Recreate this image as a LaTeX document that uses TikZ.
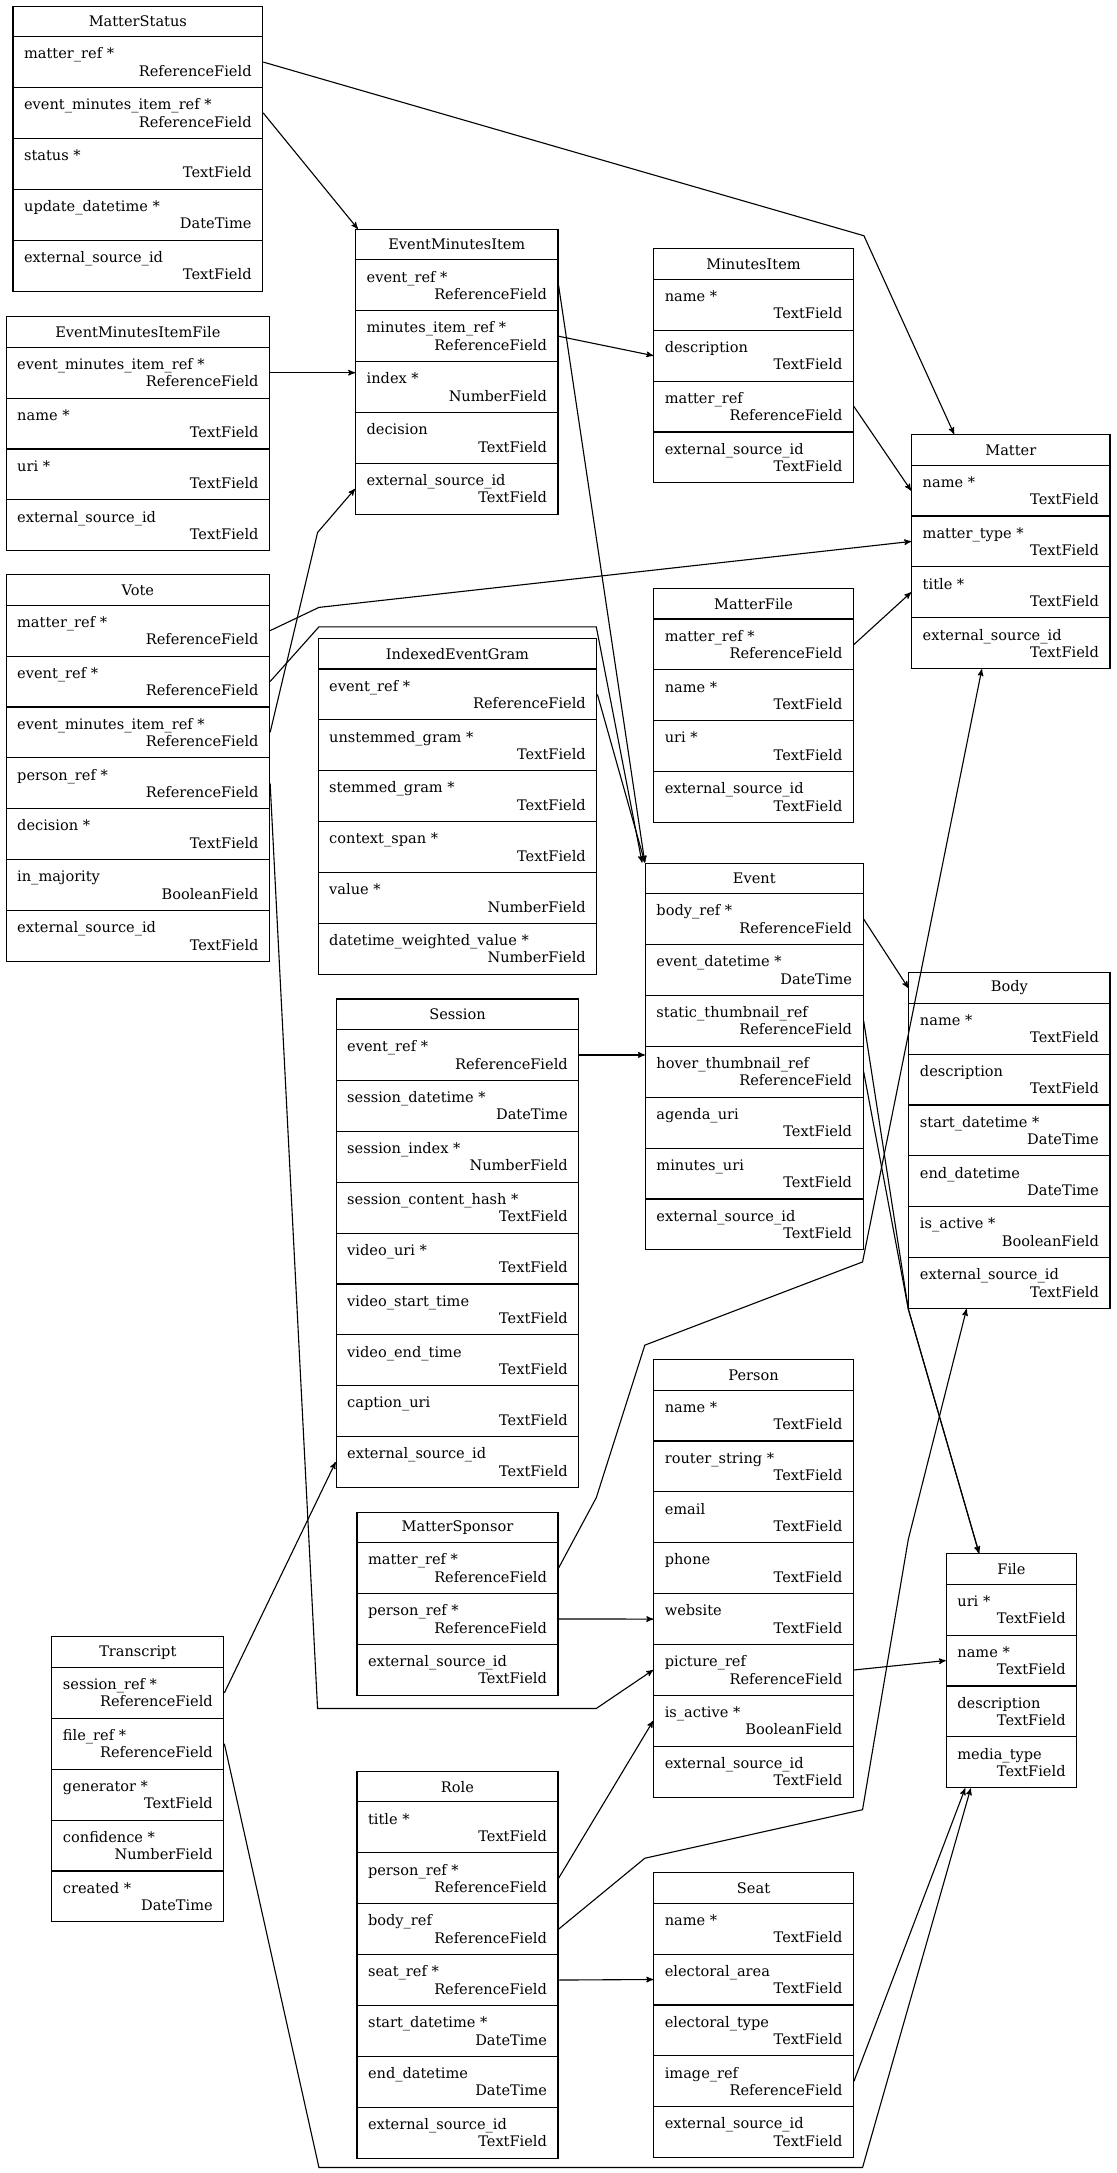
\documentclass[tikz,border=0pt]{standalone}
\usepackage{fontspec}
\setmainfont{DejaVu Serif}
\usetikzlibrary{arrows}
\tikzset{>=stealth'}
\tikzset{ttl/.style={draw, line width=0.8pt, anchor=north west, minimum height=22pt, inner sep=0pt, font=\fontsize{10.5}{12}\selectfont}}
\tikzset{fld/.style={draw, line width=0.8pt, anchor=north west, minimum height=36.7pt, inner ysep=0pt, inner xsep=8pt, align=flush left, font=\fontsize{10.5}{12.5}\selectfont}}
\tikzset{rel/.style={->, line width=0.8pt}}

% table: name, left, top, right, title, fields
\newcommand{\entity}[6]{%
  \node[ttl, minimum width={(#4-#2)*1pt}] (#1) at (#2,#3) {#5};
  \foreach \f/\t [count=\i] in {#6} {
    \node[fld, minimum width={(#4-#2)*1pt}, text width={(#4-#2-16)*1pt}] (#1-\i)
      at (#2,{#3+22+(\i-1)*36.7}) {\f\\\hspace*{\fill}\t};
  }
}

\begin{document}
\begin{tikzpicture}[x=1pt,y=-1pt]
\useasboundingbox (0,0) rectangle (805,1567);

\entity{mstatus}{9}{4}{189}{MatterStatus}{matter\_ref */ReferenceField, event\_minutes\_item\_ref */ReferenceField, status */TextField, update\_datetime */DateTime, external\_source\_id/TextField}
\entity{emifile}{4}{228}{194}{EventMinutesItemFile}{event\_minutes\_item\_ref */ReferenceField, name */TextField, uri */TextField, external\_source\_id/TextField}
\entity{vote}{4}{414}{194}{Vote}{matter\_ref */ReferenceField, event\_ref */ReferenceField, event\_minutes\_item\_ref */ReferenceField, person\_ref */ReferenceField, decision */TextField, in\_majority/BooleanField, external\_source\_id/TextField}
\entity{emi}{256}{165}{402}{EventMinutesItem}{event\_ref */ReferenceField, minutes\_item\_ref */ReferenceField, index */NumberField, decision/TextField, external\_source\_id/TextField}
\entity{mitem}{471}{179}{615}{MinutesItem}{name */TextField, description/TextField, matter\_ref/ReferenceField, external\_source\_id/TextField}
\entity{matter}{657}{313}{800}{Matter}{name */TextField, matter\_type */TextField, title */TextField, external\_source\_id/TextField}
\entity{mfile}{471}{424}{615}{MatterFile}{matter\_ref */ReferenceField, name */TextField, uri */TextField, external\_source\_id/TextField}
\entity{ieg}{229}{460}{430}{IndexedEventGram}{event\_ref */ReferenceField, unstemmed\_gram */TextField, stemmed\_gram */TextField, context\_span */TextField, value */NumberField, datetime\_weighted\_value */NumberField}
\entity{event}{465}{622}{622}{Event}{body\_ref */ReferenceField, event\_datetime */DateTime, static\_thumbnail\_ref/ReferenceField, hover\_thumbnail\_ref/ReferenceField, agenda\_uri/TextField, minutes\_uri/TextField, external\_source\_id/TextField}
\entity{body}{655}{701}{800}{Body}{name */TextField, description/TextField, start\_datetime */DateTime, end\_datetime/DateTime, is\_active */BooleanField, external\_source\_id/TextField}
\entity{session}{242}{720}{417}{Session}{event\_ref */ReferenceField, session\_datetime */DateTime, session\_index */NumberField, session\_content\_hash */TextField, video\_uri */TextField, video\_start\_time/TextField, video\_end\_time/TextField, caption\_uri/TextField, external\_source\_id/TextField}
\entity{person}{471}{980}{615}{Person}{name */TextField, router\_string */TextField, email/TextField, phone/TextField, website/TextField, picture\_ref/ReferenceField, is\_active */BooleanField, external\_source\_id/TextField}
\entity{msponsor}{257}{1090}{402}{MatterSponsor}{matter\_ref */ReferenceField, person\_ref */ReferenceField, external\_source\_id/TextField}
\entity{file}{682}{1120}{776}{File}{uri */TextField, name */TextField, description/TextField, media\_type/TextField}
\entity{transcript}{37}{1180}{161}{Transcript}{session\_ref */ReferenceField, file\_ref */ReferenceField, generator */TextField, confidence */NumberField, created */DateTime}
\entity{role}{257}{1277}{402}{Role}{title */TextField, person\_ref */ReferenceField, body\_ref/ReferenceField, seat\_ref */ReferenceField, start\_datetime */DateTime, end\_datetime/DateTime, external\_source\_id/TextField}
\entity{seat}{471}{1350}{615}{Seat}{name */TextField, electoral\_area/TextField, electoral\_type/TextField, image\_ref/ReferenceField, external\_source\_id/TextField}

% references
\draw[rel] (mstatus-1.east) -- (623,170) -- ([xshift=31pt]matter.north west);
\draw[rel] (mstatus-2.east) -- ([xshift=2pt]emi.north west);
\draw[rel] (emifile-1.east) -- (emifile-1.east -| emi.west);
\draw[rel] (vote-1.east) -- (230,438) -- (matter-2.west);
\draw[rel] (vote-2.east) -- (230,452) -- (430,452) -- ([xshift=-2pt]event.north west);
\draw[rel] (vote-3.east) -- (229,384) -- (emi-5.west);
\draw[rel] (vote-4.east) -- (229,1232) -- (430,1232) -- (person-6.west);
\draw[rel] (emi-1.east) -- (event.north west);
\draw[rel] (emi-2.east) -- (mitem-2.west);
\draw[rel] (mitem-3.east) -- (matter-1.west);
\draw[rel] (mfile-1.east) -- (matter-3.west);
\draw[rel] (ieg-1.east) -- (event.north west);
\draw[rel] (session-1.east) -- (session-1.east -| event.west);
\draw[rel] (event-1.east) -- (body.west);
\draw[rel] (event-3.east) -- (body-6.south west) -- ([xshift=24pt]file.north west);
\draw[rel] (event-4.east) -- (body-6.south west) -- ([xshift=24pt]file.north west);
\draw[rel] (transcript-1.east) -- (session-9.west);
\draw[rel] (transcript-2.east) -- (230,1563) -- (622,1563) -- ([xshift=18pt]file-4.south west);
\draw[rel] (msponsor-1.east) -- (430,1080) -- (465,970) -- (622,910) -- ([xshift=51pt]matter-4.south west);
\draw[rel] (msponsor-2.east) -- (person-5.west);
\draw[rel] (person-6.east) -- (file-2.west);
\draw[rel] (role-2.east) -- (person-7.west);
\draw[rel] (role-3.east) -- (465,1340) -- (622,1305) -- (655,1110) -- ([xshift=42pt]body-6.south west);
\draw[rel] (role-4.east) -- (seat-2.west);
\draw[rel] (seat-4.east) -- ([xshift=14pt]file-4.south west);
\end{tikzpicture}
\end{document}
